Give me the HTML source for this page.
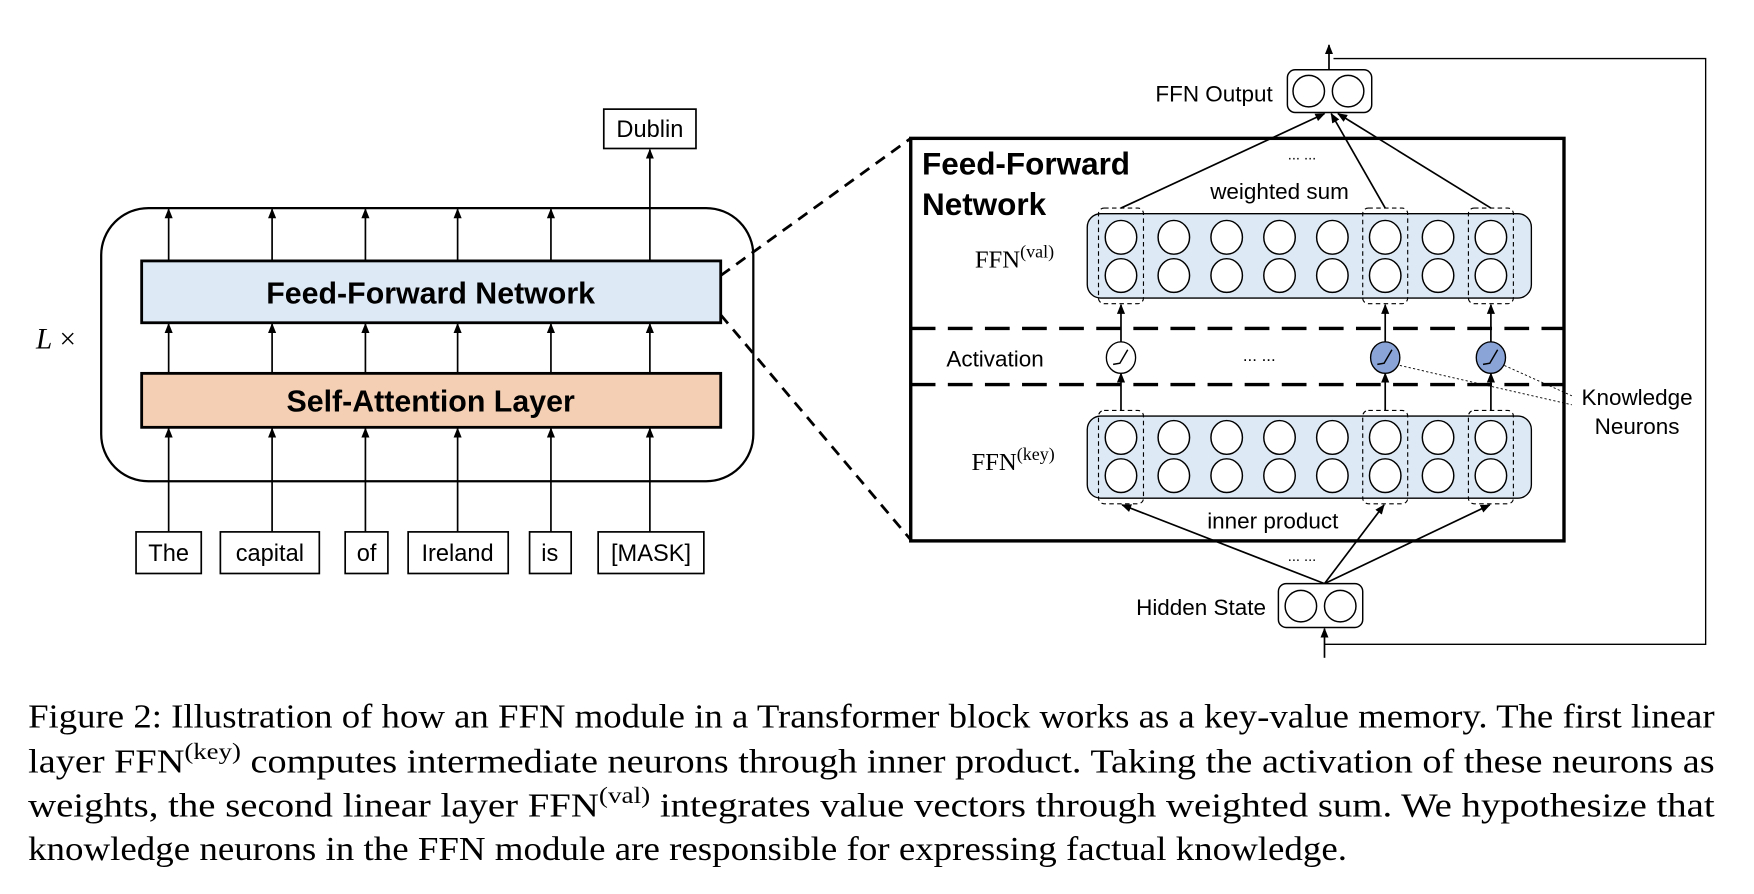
<!DOCTYPE html>
<html><head><meta charset="utf-8"><style>
html,body{margin:0;padding:0;background:#fff;}
svg{display:block;}
.s{font-family:"Liberation Sans",sans-serif;}
.r{font-family:"Liberation Serif",serif;}
</style></head><body>
<svg width="1754" height="894" viewBox="0 0 1560 795" xmlns="http://www.w3.org/2000/svg">
<defs>
<marker id="a" viewBox="0 0 10 10" refX="9" refY="5" markerWidth="6" markerHeight="6" orient="auto-start-reverse"><path d="M0,1 L10,5 L0,9 z" fill="#000"/></marker>
<g id="row" fill="#fff" stroke="#000" stroke-width="1.3"><ellipse cx="997" cy="0" rx="14" ry="15"/><ellipse cx="1044" cy="0" rx="14" ry="15"/><ellipse cx="1091" cy="0" rx="14" ry="15"/><ellipse cx="1138" cy="0" rx="14" ry="15"/><ellipse cx="1185" cy="0" rx="14" ry="15"/><ellipse cx="1232" cy="0" rx="14" ry="15"/><ellipse cx="1279" cy="0" rx="14" ry="15"/><ellipse cx="1326" cy="0" rx="14" ry="15"/></g>
</defs>
<rect x="90" y="185" width="580" height="243" rx="42" fill="none" stroke="#000" stroke-width="2"/>
<rect x="126" y="232" width="515" height="55" fill="#dde9f5" stroke="#000" stroke-width="2.5"/>
<rect x="126" y="332" width="515" height="48" fill="#f4cfb3" stroke="#000" stroke-width="2.5"/>
<g class="s" font-weight="bold" font-size="27" text-anchor="middle">
<text x="383" y="270">Feed-Forward Network</text>
<text x="383" y="366">Self-Attention Layer</text>
</g>
<g stroke="#000" stroke-width="1.5" marker-end="url(#a)">
<line x1="150" y1="473" x2="150" y2="381"/><line x1="242" y1="473" x2="242" y2="381"/><line x1="325" y1="473" x2="325" y2="381"/><line x1="407" y1="473" x2="407" y2="381"/><line x1="490" y1="473" x2="490" y2="381"/><line x1="578" y1="473" x2="578" y2="381"/>
<line x1="150" y1="332" x2="150" y2="288"/><line x1="242" y1="332" x2="242" y2="288"/><line x1="325" y1="332" x2="325" y2="288"/><line x1="407" y1="332" x2="407" y2="288"/><line x1="490" y1="332" x2="490" y2="288"/><line x1="578" y1="332" x2="578" y2="288"/>
<line x1="150" y1="232" x2="150" y2="186"/><line x1="242" y1="232" x2="242" y2="186"/><line x1="325" y1="232" x2="325" y2="186"/><line x1="407" y1="232" x2="407" y2="186"/><line x1="490" y1="232" x2="490" y2="186"/><line x1="578" y1="232" x2="578" y2="133"/>
</g>
<g stroke="#000" stroke-width="1.5" fill="#fff">
<rect x="121" y="473" width="58" height="37"/><rect x="196" y="473" width="88" height="37"/><rect x="307" y="473" width="38" height="37"/><rect x="363" y="473" width="89" height="37"/><rect x="471" y="473" width="37" height="37"/><rect x="532" y="473" width="94" height="37"/><rect x="537" y="97" width="82" height="35"/>
</g>
<g class="s" font-size="21" text-anchor="middle">
<text x="150" y="499">The</text><text x="240" y="499">capital</text><text x="326" y="499">of</text><text x="407" y="499">Ireland</text><text x="489" y="499">is</text><text x="579" y="499">[MASK]</text><text x="578" y="122">Dublin</text>
</g>
<text x="32" y="310" class="r" font-size="26"><tspan font-style="italic">L</tspan> ×</text>
<g stroke="#000" stroke-width="2.5" stroke-dasharray="10,7">
<line x1="641" y1="245" x2="810" y2="123"/><line x1="641" y1="280" x2="810" y2="480"/>
</g>
<rect x="810" y="123" width="581" height="358" fill="none" stroke="#000" stroke-width="3"/>
<g stroke="#000" stroke-width="3" stroke-dasharray="22,11">
<line x1="810" y1="292" x2="1391" y2="292"/><line x1="810" y1="342" x2="1391" y2="342"/>
</g>
<g class="s" font-weight="bold" font-size="28"><text x="820" y="155">Feed-Forward</text><text x="820" y="191">Network</text></g>
<rect x="967" y="190" width="395" height="75" rx="12" fill="#dde9f5" stroke="#000" stroke-width="1.2"/>
<rect x="967" y="370" width="395" height="73" rx="12" fill="#dde9f5" stroke="#000" stroke-width="1.2"/>
<use href="#row" y="211"/><use href="#row" y="245"/><use href="#row" y="389"/><use href="#row" y="423"/>
<g fill="none" stroke="#000" stroke-width="1" stroke-dasharray="4,3">
<rect x="977" y="185" width="40" height="85" rx="5"/><rect x="1212" y="185" width="40" height="85" rx="5"/><rect x="1306" y="185" width="40" height="85" rx="5"/>
<rect x="977" y="365" width="40" height="83" rx="5"/><rect x="1212" y="365" width="40" height="83" rx="5"/><rect x="1306" y="365" width="40" height="83" rx="5"/>
</g>
<g stroke="#000" stroke-width="1.5" marker-end="url(#a)">
<line x1="997" y1="365" x2="997" y2="332"/><line x1="1232" y1="365" x2="1232" y2="332"/><line x1="1326" y1="365" x2="1326" y2="332"/>
<line x1="997" y1="305" x2="997" y2="271"/><line x1="1232" y1="305" x2="1232" y2="271"/><line x1="1326" y1="305" x2="1326" y2="271"/>
<line x1="997" y1="185" x2="1178" y2="101"/><line x1="1232" y1="185" x2="1184" y2="101"/><line x1="1326" y1="185" x2="1190" y2="101"/>
<line x1="1178" y1="519" x2="998" y2="449"/><line x1="1178" y1="519" x2="1231" y2="449"/><line x1="1178" y1="519" x2="1325" y2="449"/>
<line x1="1178" y1="585" x2="1178" y2="559"/>
<line x1="1182" y1="62" x2="1182" y2="40"/>
</g>
<polyline points="1178,573 1517,573 1517,52 1186,52" fill="none" stroke="#000" stroke-width="1.2"/>
<g stroke="#000" stroke-width="1.2">
<ellipse cx="997" cy="318" rx="13" ry="14" fill="#fff"/><ellipse cx="1232" cy="318" rx="13" ry="14" fill="#8aa4d8"/><ellipse cx="1326" cy="318" rx="13" ry="14" fill="#8aa4d8"/>
</g>
<g stroke="#000" stroke-width="1.3" fill="none">
<polyline points="990,324 996,323 1003,311"/><polyline points="1225,324 1231,323 1238,311"/><polyline points="1319,324 1325,323 1332,311"/>
</g>
<g stroke="#000" stroke-width="0.8" stroke-dasharray="2,2">
<line x1="1245" y1="325" x2="1398" y2="360"/><line x1="1338" y1="325" x2="1398" y2="352"/>
</g>
<rect x="1145" y="62" width="75" height="38" rx="7" fill="#fff" stroke="#000" stroke-width="1.3"/>
<circle cx="1164" cy="81" r="14" fill="#fff" stroke="#000" stroke-width="1.3"/><circle cx="1199" cy="81" r="14" fill="#fff" stroke="#000" stroke-width="1.3"/>
<rect x="1137" y="519" width="75" height="39" rx="7" fill="#fff" stroke="#000" stroke-width="1.3"/>
<circle cx="1157" cy="539" r="14" fill="#fff" stroke="#000" stroke-width="1.3"/><circle cx="1192" cy="539" r="14" fill="#fff" stroke="#000" stroke-width="1.3"/>
<g class="s" font-size="20">
<text x="1132" y="90" text-anchor="end">FFN Output</text>
<text x="1126" y="547" text-anchor="end">Hidden State</text>
<text x="1138" y="177" text-anchor="middle">weighted sum</text>
<text x="1132" y="470" text-anchor="middle">inner product</text>
<text x="885" y="326" text-anchor="middle">Activation</text>
<text x="1456" y="360" text-anchor="middle">Knowledge</text>
<text x="1456" y="386" text-anchor="middle">Neurons</text>
<text x="1158" y="142" text-anchor="middle" font-size="13">... ...</text>
<text x="1158" y="499" text-anchor="middle" font-size="13">... ...</text>
<text x="1120" y="321" text-anchor="middle" font-size="15">... ...</text>
</g>
<g class="r" font-size="22">
<text x="867" y="238">FFN<tspan dy="-9" font-size="16">(val)</tspan></text>
<text x="864" y="418">FFN<tspan dy="-9" font-size="16">(key)</tspan></text>
</g>
<g class="r" font-size="30">
<text x="25" y="647" textLength="1500" lengthAdjust="spacingAndGlyphs">Figure 2: Illustration of how an FFN module in a Transformer block works as a key-value memory. The first linear</text>
<text x="25" y="687" textLength="1500" lengthAdjust="spacingAndGlyphs">layer FFN<tspan dy="-12" font-size="21">(key)</tspan><tspan dy="12"> computes intermediate neurons through inner product.  Taking the activation of these neurons as</tspan></text>
<text x="25" y="726" textLength="1500" lengthAdjust="spacingAndGlyphs">weights, the second linear layer FFN<tspan dy="-12" font-size="21">(val)</tspan><tspan dy="12"> integrates value vectors through weighted sum.  We hypothesize that</tspan></text>
<text x="25" y="765" textLength="1173" lengthAdjust="spacingAndGlyphs">knowledge neurons in the FFN module are responsible for expressing factual knowledge.</text>
</g>
</svg>
</body></html>
